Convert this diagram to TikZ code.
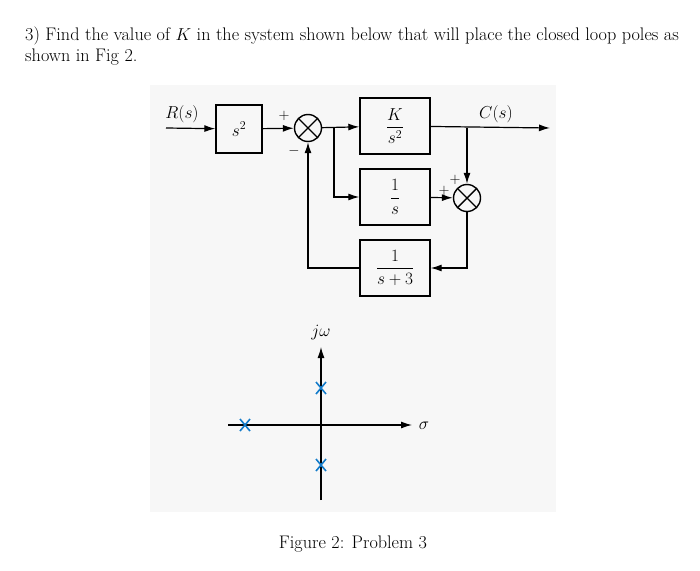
\documentclass[tikz,border=0pt]{standalone}
\usepackage{amsmath}
\usetikzlibrary{arrows.meta}
\begin{document}
\begin{tikzpicture}[x=1pt,y=-1pt,
  blk/.style={draw,line width=1.4pt,minimum width=70pt,minimum height=56pt,inner sep=0pt,font=\fontsize{17}{20}\selectfont},
  sumc/.style={draw,circle,line width=1.4pt,minimum size=27pt,inner sep=0pt,path picture={\draw[line width=1.4pt] (path picture bounding box.north west)--(path picture bounding box.south east) (path picture bounding box.north east)--(path picture bounding box.south west);}},
  sig/.style={line width=1.2pt,-{Latex[length=11pt,width=7pt]}},
  pole/.style={color=cyan!60!blue,line width=1.6pt},
  lbl/.style={font=\fontsize{17}{20}\selectfont},
  sgn/.style={font=\fontsize{15}{18}\selectfont\bfseries,inner sep=0pt}]
\useasboundingbox (0,0) rectangle (700,570);
\fill[black!3] (150,85) rectangle (556,512);
\node[anchor=base west,font=\fontsize{18.2}{21}\selectfont,inner sep=0pt] (t1) at (25,40) {3) Find the value of $K$ in the system shown below that will place the closed loop poles as};
\node[anchor=base west,font=\fontsize{18.2}{21}\selectfont,inner sep=0pt] (t2) at (25,61) {shown in Fig 2.};
% block diagram
\coordinate (rin) at (166,128);
\node[blk,minimum width=46pt,minimum height=48pt] (s2) at (239,129) {$s^2$};
\node[sumc] (e1) at (308,128) {};
\node[blk] (g1) at (395,126) {$\dfrac{K}{s^2}$};
\node[blk] (g2) at (395,197) {$\dfrac{1}{s}$};
\node[blk] (h) at (395,268) {$\dfrac{1}{s+3}$};
\node[sumc] (e2) at (467,198) {};
\coordinate (cout) at (550,128);
\coordinate (br1) at (334,128);
\coordinate (br2) at (467,128);
\node[lbl] (rl) at (182,114) {$R(s)$};
\node[lbl] (cl) at (496,114) {$C(s)$};
\draw[sig] (rin) -- (s2);
\draw[sig] (s2) -- (e1);
\draw[sig] (e1) -- (g1);
\draw[sig] (br1) |- (g2);
\draw[sig] (g1) -- (cout);
\draw[sig] (br2) -- (e2);
\draw[sig] (g2) -- (e2);
\draw[sig] (e2) |- (h);
\draw[sig] (h) -| (e1);
\node[sgn] (p1) at (284,116) {$+$};
\node[sgn] (m1) at (294,151) {$-$};
\node[sgn] (p2) at (455,180) {$+$};
\node[sgn] (p3) at (444,191) {$+$};
% pole plot
\coordinate (yb) at (321,500);
\coordinate (yt) at (321,347);
\coordinate (xl) at (228,425);
\coordinate (xr) at (412,425);
\draw[sig] (yb) -- (yt);
\draw[sig] (xl) -- (xr);
\node[lbl] (jw) at (321,333) {$j\omega$};
\node[lbl] (sg) at (424,426) {$\sigma$};
\foreach \p/\q in {321/388,321/465,245/425}
  \draw[pole] (\p-5,\q-6) -- (\p+5,\q+6) (\p-5,\q+6) -- (\p+5,\q-6);
\node[anchor=base,font=\fontsize{18.2}{21}\selectfont,inner sep=0pt] (cap) at (353,548) {Figure 2: Problem 3};
\end{tikzpicture}
\end{document}
